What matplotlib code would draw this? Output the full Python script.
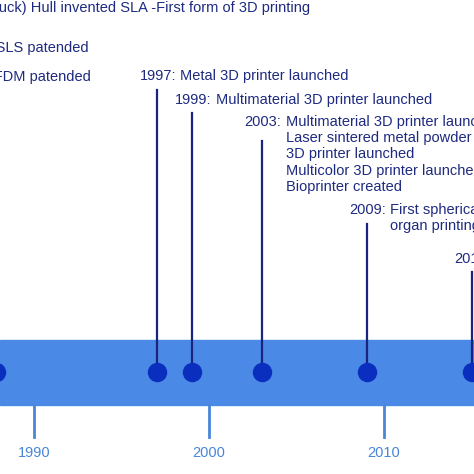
import matplotlib
matplotlib.use("Agg")
import matplotlib.pyplot as plt

plt.rcParams['font.family'] = ['Liberation Sans', 'DejaVu Sans']

# events shown with stems on the band
years = [1997, 1999, 2003, 2009, 2015]
prefixes = ["1997:", "1999:", "2003:", "2009:", "2015"]
bodies = [
    "Metal 3D printer launched",
    "Multimaterial 3D printer launched",
    "Multimaterial 3D printer launched\n"
    "Laser sintered metal powder\n"
    "3D printer launched\n"
    "Multicolor 3D printer launched\n"
    "Bioprinter created",
    "First spherical\norgan printing",
    "",
]
label_y = [77, 101, 123, 211, 260]     # pixel rows of the label centres (first line)
stem_top = [90, 113, 141, 224, 272]

# early events whose markers sit left of the crop
early_labels = [
    "1986: Charles (Chuck) Hull invented SLA -First form of 3D printing",
    "1988: SLS patended",
    "1989: FDM patended",
]
early_y = [8, 48, 77]
early_end_px = [310, 89, 91]

tick_years = [1990, 2000, 2010]

W = 474
PX = 17.5          # pixels per year
X0 = 209           # pixel of year 2000
FS = 10.5


def px2yr(p):
    return 2000 + (p - X0) / PX


text_c = "#1e2a80"
band_c = "#4a8ae6"
dot_c = "#0a2fbf"
stem_c = "#1a237e"
tick_c = "#4a86d8"

fig = plt.figure(figsize=(W / 100, W / 100), dpi=100)
ax = fig.add_axes([0, 0, 1, 1])
ax.set_xlim(px2yr(0), px2yr(W))
ax.set_ylim(W, 0)
ax.axis("off")

# band
ax.axhspan(340, 405, color=band_c, zorder=1)
ax.plot(px2yr(-4), 372, "o", ms=13, color=dot_c, zorder=3, clip_on=True)

# ticks
for t in tick_years:
    ax.plot([t, t], [405, 437], color=tick_c, lw=2, zorder=1)
    ax.text(t, 453, str(t), color=tick_c, fontsize=FS, ha="center", va="center")

# early events
for lab, y, endp in zip(early_labels, early_y, early_end_px):
    ax.text(px2yr(endp), y, lab, color=text_c, fontsize=FS, ha="right", va="center")

# main events
for yr, pre, body, ly, st in zip(years, prefixes, bodies, label_y, stem_top):
    ax.plot([yr, yr], [st, 372], color=stem_c, lw=1.6, zorder=2)
    ax.plot(yr, 372, "o", ms=13, color=dot_c, zorder=3)
    ax.text(yr - 17 / PX, ly - 8, pre, color=text_c, fontsize=FS,
            ha="left", va="top")
    ax.text(yr + 24 / PX, ly - 8, body, color=text_c, fontsize=FS,
            ha="left", va="top", linespacing=1.2)

fig.savefig("out.png", dpi=100)
